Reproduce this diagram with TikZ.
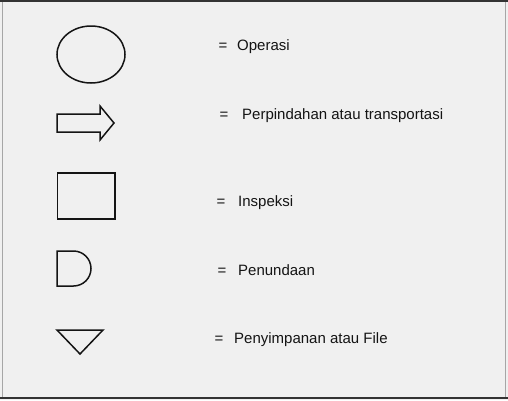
\documentclass[tikz,border=0pt]{standalone}
\usepackage{fontspec}
\setmainfont{Liberation Sans}
\usetikzlibrary{shapes.geometric}
\definecolor{bgpaper}{HTML}{F0F0F0}
\definecolor{ink}{HTML}{141414}
\begin{document}
\begin{tikzpicture}[x=1pt, y=1pt, sym/.style = {draw=ink, line width=1.5pt, line join=miter}, lbl/.style = {anchor=base west, inner sep=0pt, text=ink, font=\fontsize{15}{18}\selectfont}] 
\useasboundingbox (0,0) rectangle (508,-400);
\fill[bgpaper] (0,0) rectangle (508,-400);
\draw[gray!70, line width=1pt] (2.5,-1.5) -- (2.5,-397.5);
\draw[gray!70, line width=1pt] (505.5,-1.5) -- (505.5,-397.5);
\draw[black!80, line width=1.5pt] (0,-1) -- (508,-1);
\draw[black!80, line width=1.5pt] (0,-398) -- (508,-398);

% symbols
\node[sym, ellipse, minimum width=68pt, minimum height=57pt, inner sep=0pt] (op) at (91,-54.5) {}; 
\draw[sym] (57,-114) -- (100,-114) -- (100,-106) -- (114,-123) -- (100,-140) -- (100,-132) -- (57,-132) -- cycle; 
\node[sym, rectangle, minimum width=57.5pt, minimum height=46pt, inner sep=0pt] (insp) at (86,-196) {}; 
\draw[sym] (57,-251) -- (73.5,-251) arc[start angle=90, end angle=-90, radius=17.5] -- (57,-286) -- cycle; 
\draw[sym] (57,-330) -- (103,-330) -- (80,-354) -- cycle; 

% labels
\node[lbl] (eq1) at (218.5,-50) {=}; 
\node[lbl] (t1) at (237,-50) {Operasi}; 
\node[lbl] (eq2) at (219.5,-119) {=}; 
\node[lbl] (t2) at (242,-119) {Perpindahan atau transportasi}; 
\node[lbl] (eq3) at (216.5,-206) {=}; 
\node[lbl] (t3) at (238,-206) {Inspeksi}; 
\node[lbl] (eq4) at (217.5,-275) {=}; 
\node[lbl] (t4) at (238,-275) {Penundaan}; 
\node[lbl] (eq5) at (214.5,-343.5) {=}; 
\node[lbl] (t5) at (234,-343.5) {Penyimpanan atau File}; 
\end{tikzpicture}
\end{document}
